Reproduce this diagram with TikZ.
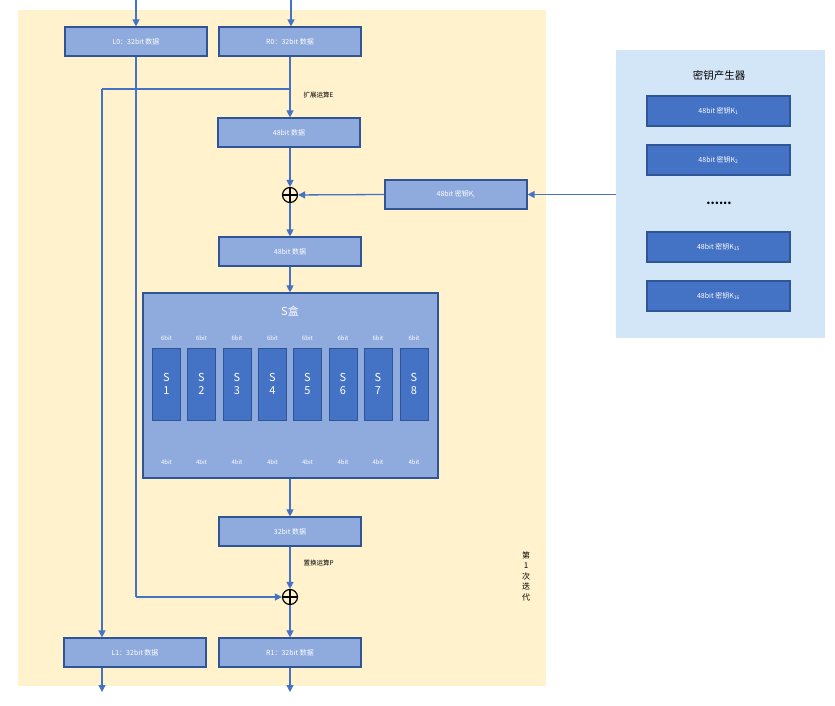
\documentclass[tikz,border=0pt]{standalone}
\usepackage{fontspec}
\setmainfont{Noto Sans CJK SC}
\usetikzlibrary{arrows.meta}
\definecolor{yel}{HTML}{FFF2CC}
\definecolor{lblue}{HTML}{D3E6F8}
\definecolor{boxf}{HTML}{8FAADC}
\definecolor{boxd}{HTML}{4472C4}
\definecolor{edge}{HTML}{2F5597}
\definecolor{arr}{HTML}{4472C4}
\begin{document}
\begin{tikzpicture}[x=1pt,y=-1pt,
  box/.style={draw=edge,line width=1.2pt,fill=boxf,text=white,minimum width=142pt,minimum height=29pt,inner sep=0pt,font=\fontsize{7}{8}\selectfont},
  kbox/.style={box,fill=boxd,minimum width=143pt,minimum height=30pt},
  sb/.style={draw=edge,line width=1pt,fill=boxd,text=white,minimum width=28pt,minimum height=72pt,inner sep=0pt,align=center,font=\fontsize{11}{13}\selectfont},
  lbl/.style={text=white,font=\fontsize{6}{7}\selectfont},
  ar/.style={draw=arr,line width=1.3pt,-{Triangle[length=7pt,width=7pt]}},
  ln/.style={draw=arr,line width=1.3pt},
  xo/.style={circle,draw=black,line width=1.2pt,minimum size=15pt,inner sep=0pt,path picture={\draw[black,line width=1.2pt] (path picture bounding box.north)--(path picture bounding box.south) (path picture bounding box.west)--(path picture bounding box.east);}},
  note/.style={font=\fontsize{6.5}{7}\selectfont,anchor=west}]
\useasboundingbox (0,0) rectangle (835,706);
\fill[yel] (18,10) rectangle (546,686);
\fill[lblue] (616,50) rectangle (825,338);
\coordinate (tL) at (136,0); \coordinate (tR) at (291,0);
\node[box] (L0) at (136,41.5) {L0：32bit 数据};
\node[box] (R0) at (290,41.5) {R0：32bit 数据};
\node[box] (E48) at (289,132.5) {48bit 数据};
\node[xo] (x1) at (290,195) {};
\node[box] (Ki) at (456,194.5) {48bit 密钥K\textsubscript{i}};
\node[box] (B48) at (290,251.5) {48bit 数据};
\node[draw=edge,line width=1.2pt,fill=boxf,minimum width=295pt,minimum height=185pt,inner sep=0pt] (SB) at (290.5,385.5) {};
\node[text=white,font=\fontsize{11}{12}\selectfont] (st) at (290,311) {S盒};
\foreach \i/\x in {1/166.5,2/201.5,3/237,4/272.5,5/307.5,6/343,7/378,8/414}{
  \node[sb] (s\i) at (\x,384) {S\\\i};
  \node[lbl] (u\i) at (\x,338) {6bit};
  \node[lbl] (d\i) at (\x,462) {4bit};
}
\node[box] (B32) at (290,531.5) {32bit 数据};
\node[xo] (x2) at (290,597) {};
\node[box] (L1) at (135,652.5) {L1：32bit 数据};
\node[box] (R1) at (290,652.5) {R1：32bit 数据};
\coordinate (oL) at (102,692); \coordinate (oR) at (290,692);
\node[note] (nE) at (300,95) {扩展运算E};
\node[note] (nP) at (300,563) {置换运算P};
\node[font=\fontsize{8}{10.5}\selectfont,align=center] (it) at (526,576) {第\\1\\次\\迭\\代};
\node[font=\fontsize{10.5}{12}\selectfont] (kg) at (719,75) {密钥产生器};
\node[kbox] (k1) at (718.5,111) {48bit 密钥K\textsubscript{1}};
\node[kbox] (k2) at (718.5,160) {48bit 密钥K\textsubscript{2}};
\node[font=\bfseries\fontsize{12}{12}\selectfont] (dots) at (719,203) {......};
\node[kbox] (k15) at (718.5,247) {48bit 密钥K\textsubscript{15}};
\node[kbox] (k16) at (718.5,296) {48bit 密钥K\textsubscript{16}};
\coordinate (kgL) at (616,194.5);
% arrows
\draw[ar] (tL) -- (L0.north -| tL);
\draw[ar] (tR) -- (R0.north -| tR);
\draw[ar] (R0.south) -- (E48.north -| R0.south);
\coordinate (br) at (290,89); \coordinate (brL) at (102,89);
\draw[ln] (br) -- (brL);
\draw[ar] (brL) -- (L1.north -| brL);
\draw[ar] (E48.south -| x1) -- (x1);
\draw[ar] (kgL) -- (Ki.east);
\draw[ar] (Ki.west) -- (x1);
\draw[ar] (x1) -- (B48.north);
\draw[ar] (B48.south) -- (SB.north -| B48.south);
\draw[ar] (SB.south -| B32.north) -- (B32.north);
\draw[ar] (B32.south) -- (x2);
\coordinate (c2) at (136,597);
\draw[ln] (L0.south -| c2) -- (c2);
\draw[ar] (c2) -- (x2);
\draw[ar] (x2) -- (R1.north);
\draw[ar] (L1.south -| oL) -- (oL);
\draw[ar] (R1.south) -- (oR);
\end{tikzpicture}
\end{document}
